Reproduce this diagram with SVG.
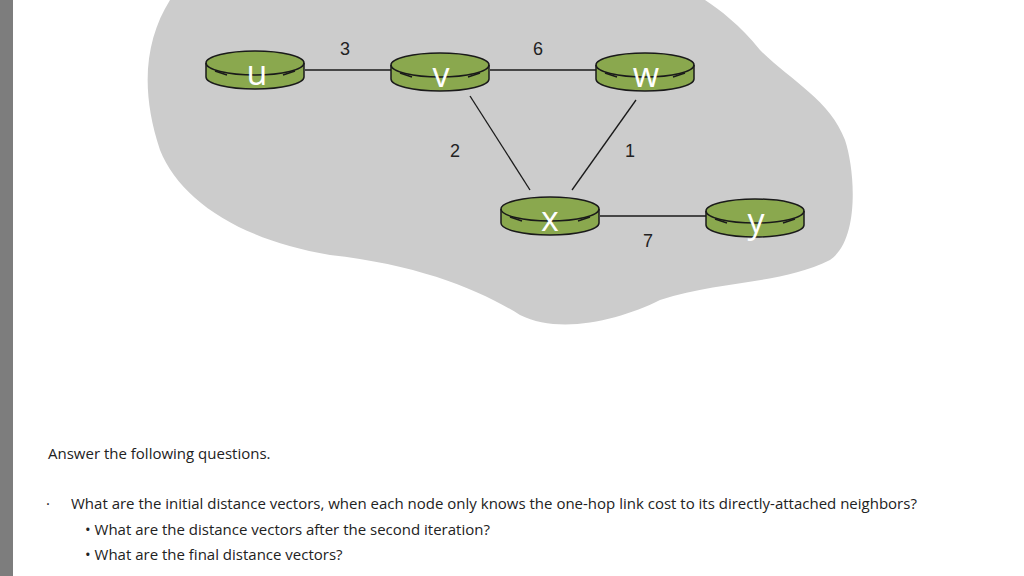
<svg xmlns="http://www.w3.org/2000/svg" width="1024" height="576" viewBox="0 0 1024 576">
<defs>
<style>
.r{fill:#8aa84e;stroke:#1a1a1a;stroke-width:1.5}
.d{fill:none;stroke:#1a1a1a;stroke-width:1.5}
.lk{stroke:#1a1a1a;stroke-width:1.3}
.lb{font-family:"Liberation Sans",Arial,sans-serif;font-size:18px;fill:#222;text-anchor:middle}
.nl{font-family:"Open Sans",sans-serif;font-size:34px;fill:#fff;text-anchor:middle}
.t{font-family:"Open Sans",sans-serif;font-size:15px;fill:#222}
</style>
<g id="router">
<path class="r" d="M-49,-7 v14 a49,12 0 0 0 98,0 v-14 a49,12 0 0 0 -98,0 z"/>
<path class="d" d="M-49,-7 a49,12 0 0 0 98,0"/>
<path class="d" d="M-40,1 l12,4 M40,1 l-12,4"/>
</g>
</defs>
<rect width="1024" height="576" fill="#fff"/>
<rect x="0" y="0" width="13" height="576" fill="#7d7d7d"/>
<path d="M170,0 C145,40 140,90 160,150 C180,200 240,240 330,255 C420,265 480,290 520,315 C560,335 620,320 660,300 C720,280 780,285 830,260 C860,240 855,170 845,140 C830,100 790,80 760,50 C740,25 720,10 705,0 Z" fill="#cccccc"/>
<g id="connectors">
<line class="lk" x1="305" y1="70" x2="392" y2="70"/>
<line class="lk" x1="490" y1="70" x2="597" y2="70"/>
<line class="lk" x1="470" y1="96" x2="530" y2="190"/>
<line class="lk" x1="636" y1="100" x2="572" y2="190"/>
<line class="lk" x1="600" y1="216" x2="706" y2="216"/>
<text class="lb" x="345" y="55">3</text>
<text class="lb" x="538" y="55">6</text>
<text class="lb" x="455" y="157">2</text>
<text class="lb" x="630" y="157">1</text>
<text class="lb" x="648" y="247">7</text>
</g>
<g id="u"><use href="#router" x="255" y="70"/><text class="nl" x="257" y="85">u</text></g>
<g id="v"><use href="#router" x="440" y="72"/><text class="nl" x="441" y="87">v</text></g>
<g id="w"><use href="#router" x="645" y="72"/><text class="nl" x="646" y="87">w</text></g>
<g id="x"><use href="#router" x="550" y="216"/><text class="nl" x="550" y="231">x</text></g>
<g id="y"><use href="#router" x="755" y="218"/><text class="nl" x="756" y="233">y</text></g>
<text class="t" x="48" y="459">Answer the following questions.</text>
<text class="t" x="46" y="509">·</text>
<text class="t" x="71" y="509">What are the initial distance vectors, when each node only knows the one-hop link cost to its directly-attached neighbors?</text>
<text class="t" x="85" y="535">• What are the distance vectors after the second iteration?</text>
<text class="t" x="85" y="560">• What are the final distance vectors?</text>
</svg>
